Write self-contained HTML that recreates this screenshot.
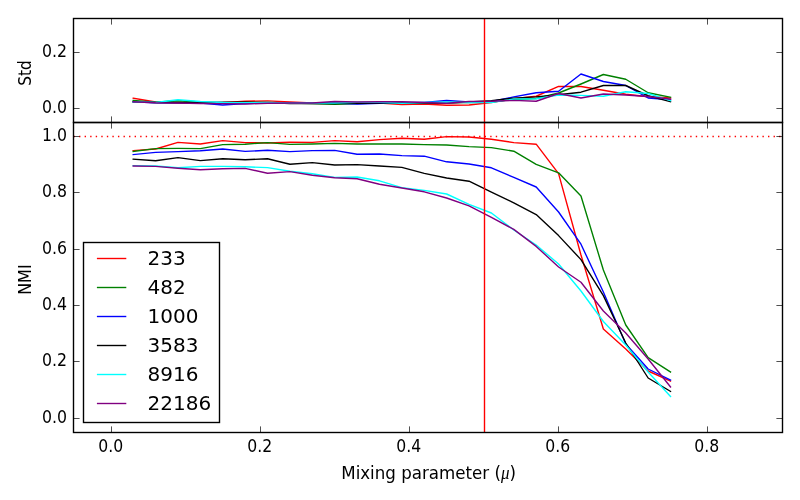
<!DOCTYPE html>
<html lang="en"><head><meta charset="utf-8"><title>NMI vs mixing parameter</title>
<style>
html,body{margin:0;padding:0;background:#fff;}
body{width:800px;height:500px;overflow:hidden;}
svg{display:block;}
svg text{font-family:"DejaVu Sans","Liberation Sans",sans-serif;fill:#000;}
.tk{font-size:16.67px;}
.lg{font-size:20px;}
.mu{font-family:"Liberation Serif","DejaVu Serif",serif;font-style:italic;font-size:17px;}
.curves polyline{fill:none;stroke-width:1.389;stroke-linejoin:round;stroke-linecap:square;}
.ticks line{stroke:#000;stroke-width:0.69;}
.spines line,.spines rect{stroke:#000;stroke-width:1.389;fill:none;stroke-linecap:square;}
</style></head><body>
<svg width="800" height="500" viewBox="0 0 800 500">
<rect x="0" y="0" width="800" height="500" fill="#ffffff"/>
<defs><clipPath id="ct"><rect x="73.5" y="18.5" width="709.0" height="104.0"/></clipPath>
<clipPath id="cb"><rect x="73.5" y="122.5" width="709.0" height="310.0"/></clipPath></defs>
<g class="curves" clip-path="url(#ct)">
<polyline points="133.19,98.20 155.58,102.00 177.97,102.80 200.36,102.80 222.75,102.80 245.13,101.20 267.52,100.90 289.91,102.00 312.30,103.00 334.69,103.00 357.08,103.00 379.47,103.00 401.86,104.50 424.25,104.00 446.63,105.30 469.02,105.00 491.41,102.50 513.80,98.75 536.19,96.25 558.58,86.40 580.97,86.50 603.36,90.20 625.75,94.25 648.14,96.80 670.52,98.00" stroke="#ff0000"/>
<polyline points="133.19,100.50 155.58,102.20 177.97,100.80 200.36,102.00 222.75,103.00 245.13,102.50 267.52,102.50 289.91,103.00 312.30,103.50 334.69,104.30 357.08,103.50 379.47,103.00 401.86,103.00 424.25,103.00 446.63,102.50 469.02,102.50 491.41,102.00 513.80,99.50 536.19,98.50 558.58,93.00 580.97,84.00 603.36,74.50 625.75,79.25 648.14,92.75 670.52,97.25" stroke="#008000"/>
<polyline points="133.19,101.80 155.58,102.80 177.97,102.80 200.36,103.00 222.75,105.00 245.13,103.50 267.52,103.00 289.91,103.00 312.30,103.00 334.69,103.00 357.08,104.00 379.47,103.20 401.86,102.50 424.25,102.50 446.63,100.50 469.02,102.00 491.41,101.50 513.80,96.90 536.19,92.75 558.58,91.25 580.97,74.00 603.36,81.50 625.75,85.50 648.14,98.00 670.52,99.80" stroke="#0000ff"/>
<polyline points="133.19,101.80 155.58,102.50 177.97,102.50 200.36,102.60 222.75,102.20 245.13,102.20 267.52,102.60 289.91,103.50 312.30,103.50 334.69,103.50 357.08,103.30 379.47,103.00 401.86,103.00 424.25,103.00 446.63,103.00 469.02,102.00 491.41,100.60 513.80,98.10 536.19,96.90 558.58,94.75 580.97,92.20 603.36,85.50 625.75,85.50 648.14,95.75 670.52,101.75" stroke="#000000"/>
<polyline points="133.19,101.80 155.58,102.50 177.97,99.70 200.36,101.50 222.75,102.50 245.13,102.80 267.52,102.50 289.91,103.00 312.30,103.00 334.69,103.00 357.08,102.30 379.47,102.20 401.86,103.30 424.25,102.50 446.63,102.00 469.02,102.50 491.41,102.50 513.80,99.00 536.19,98.75 558.58,95.00 580.97,95.40 603.36,96.20 625.75,91.70 648.14,93.50 670.52,100.70" stroke="#00ffff"/>
<polyline points="133.19,101.80 155.58,102.80 177.97,103.00 200.36,103.50 222.75,103.60 245.13,104.00 267.52,103.30 289.91,103.00 312.30,103.00 334.69,101.50 357.08,102.00 379.47,101.80 401.86,101.80 424.25,102.50 446.63,103.30 469.02,101.50 491.41,101.25 513.80,100.40 536.19,101.25 558.58,93.50 580.97,98.00 603.36,94.00 625.75,95.00 648.14,96.50 670.52,99.20" stroke="#800080"/>
<line x1="484.5" y1="18.5" x2="484.5" y2="122.5" stroke="#ff0000" stroke-width="1.389"/>
</g>
<g class="curves" clip-path="url(#cb)">
<polyline points="133.19,150.60 155.58,149.00 177.97,142.40 200.36,144.00 222.75,140.60 245.13,142.60 267.52,143.00 289.91,142.20 312.30,142.40 334.69,140.60 357.08,141.80 379.47,139.60 401.86,138.20 424.25,139.20 446.63,136.60 469.02,137.00 491.41,139.20 513.80,142.60 536.19,144.20 558.58,173.60 580.97,255.00 603.36,329.00 625.75,349.00 648.14,371.00 670.52,381.00" stroke="#ff0000"/>
<polyline points="133.19,151.40 155.58,148.60 177.97,148.40 200.36,148.60 222.75,144.60 245.13,144.20 267.52,142.60 289.91,144.40 312.30,144.00 334.69,143.40 357.08,144.00 379.47,144.00 401.86,144.00 424.25,144.60 446.63,145.00 469.02,146.60 491.41,147.60 513.80,151.20 536.19,164.40 558.58,172.80 580.97,196.00 603.36,270.00 625.75,325.00 648.14,357.60 670.52,372.00" stroke="#008000"/>
<polyline points="133.19,154.60 155.58,152.40 177.97,151.60 200.36,150.80 222.75,149.00 245.13,151.40 267.52,150.30 289.91,151.60 312.30,150.60 334.69,150.40 357.08,154.20 379.47,154.00 401.86,155.60 424.25,156.20 446.63,161.80 469.02,164.00 491.41,167.80 513.80,177.40 536.19,187.00 558.58,212.00 580.97,244.20 603.36,292.00 625.75,344.00 648.14,369.00 670.52,380.00" stroke="#0000ff"/>
<polyline points="133.19,159.20 155.58,160.80 177.97,157.60 200.36,160.60 222.75,158.80 245.13,159.80 267.52,158.80 289.91,164.20 312.30,162.60 334.69,165.00 357.08,164.60 379.47,166.00 401.86,167.40 424.25,173.40 446.63,178.00 469.02,181.20 491.41,192.20 513.80,202.80 536.19,214.60 558.58,235.60 580.97,259.60 603.36,295.60 625.75,343.00 648.14,378.00 670.52,391.40" stroke="#000000"/>
<polyline points="133.19,165.60 155.58,166.00 177.97,167.80 200.36,166.40 222.75,166.40 245.13,166.80 267.52,167.60 289.91,171.20 312.30,173.80 334.69,177.40 357.08,177.00 379.47,180.80 401.86,187.60 424.25,190.40 446.63,194.00 469.02,204.40 491.41,213.00 513.80,230.00 536.19,245.00 558.58,264.00 580.97,291.00 603.36,321.50 625.75,345.00 648.14,372.00 670.52,396.40" stroke="#00ffff"/>
<polyline points="133.19,166.00 155.58,166.40 177.97,168.20 200.36,169.80 222.75,168.80 245.13,168.40 267.52,173.20 289.91,171.60 312.30,175.20 334.69,177.80 357.08,178.80 379.47,184.20 401.86,188.00 424.25,191.80 446.63,198.00 469.02,205.80 491.41,217.40 513.80,229.40 536.19,246.40 558.58,267.00 580.97,282.20 603.36,311.00 625.75,333.00 648.14,359.00 670.52,387.00" stroke="#800080"/>
<line x1="484.5" y1="122.5" x2="484.5" y2="432.5" stroke="#ff0000" stroke-width="1.389"/>
<line x1="73.5" y1="136.5" x2="782.5" y2="136.5" stroke="#ff0000" stroke-width="1.389" stroke-dasharray="1.389 4.167" stroke-linecap="butt"/>
</g>
<g class="ticks">
<line x1="111.5" y1="18.50" x2="111.5" y2="24.60"/>
<line x1="111.5" y1="116.40" x2="111.5" y2="128.60"/>
<line x1="111.5" y1="426.40" x2="111.5" y2="432.50"/>
<line x1="260.5" y1="18.50" x2="260.5" y2="24.60"/>
<line x1="260.5" y1="116.40" x2="260.5" y2="128.60"/>
<line x1="260.5" y1="426.40" x2="260.5" y2="432.50"/>
<line x1="409.5" y1="18.50" x2="409.5" y2="24.60"/>
<line x1="409.5" y1="116.40" x2="409.5" y2="128.60"/>
<line x1="409.5" y1="426.40" x2="409.5" y2="432.50"/>
<line x1="558.5" y1="18.50" x2="558.5" y2="24.60"/>
<line x1="558.5" y1="116.40" x2="558.5" y2="128.60"/>
<line x1="558.5" y1="426.40" x2="558.5" y2="432.50"/>
<line x1="707.5" y1="18.50" x2="707.5" y2="24.60"/>
<line x1="707.5" y1="116.40" x2="707.5" y2="128.60"/>
<line x1="707.5" y1="426.40" x2="707.5" y2="432.50"/>
<line x1="73.50" y1="108.5" x2="79.60" y2="108.5"/>
<line x1="776.40" y1="108.5" x2="782.50" y2="108.5"/>
<line x1="73.50" y1="52.5" x2="79.60" y2="52.5"/>
<line x1="776.40" y1="52.5" x2="782.50" y2="52.5"/>
<line x1="73.50" y1="418.5" x2="79.60" y2="418.5"/>
<line x1="776.40" y1="418.5" x2="782.50" y2="418.5"/>
<line x1="73.50" y1="361.5" x2="79.60" y2="361.5"/>
<line x1="776.40" y1="361.5" x2="782.50" y2="361.5"/>
<line x1="73.50" y1="305.5" x2="79.60" y2="305.5"/>
<line x1="776.40" y1="305.5" x2="782.50" y2="305.5"/>
<line x1="73.50" y1="249.5" x2="79.60" y2="249.5"/>
<line x1="776.40" y1="249.5" x2="782.50" y2="249.5"/>
<line x1="73.50" y1="192.5" x2="79.60" y2="192.5"/>
<line x1="776.40" y1="192.5" x2="782.50" y2="192.5"/>
<line x1="73.50" y1="136.5" x2="79.60" y2="136.5"/>
<line x1="776.40" y1="136.5" x2="782.50" y2="136.5"/>
</g>
<g class="spines">
<rect x="73.5" y="18.5" width="709.0" height="104.0"/>
<rect x="73.5" y="122.5" width="709.0" height="310.0"/>
</g>
<g>
<rect x="83.5" y="242.5" width="136" height="180" fill="#ffffff" stroke="#000" stroke-width="1.389"/>
<line x1="96.9" y1="258.5" x2="126.3" y2="258.5" stroke="#ff0000" stroke-width="1.389"/>
<text class="lg" x="147.5" y="265.3">233</text>
<line x1="96.9" y1="287.5" x2="126.3" y2="287.5" stroke="#008000" stroke-width="1.389"/>
<text class="lg" x="147.5" y="294.3">482</text>
<line x1="96.9" y1="316.5" x2="126.3" y2="316.5" stroke="#0000ff" stroke-width="1.389"/>
<text class="lg" x="147.5" y="323.3">1000</text>
<line x1="96.9" y1="345.5" x2="126.3" y2="345.5" stroke="#000000" stroke-width="1.389"/>
<text class="lg" x="147.5" y="352.3">3583</text>
<line x1="96.9" y1="374.5" x2="126.3" y2="374.5" stroke="#00ffff" stroke-width="1.389"/>
<text class="lg" x="147.5" y="381.3">8916</text>
<line x1="96.9" y1="403.5" x2="126.3" y2="403.5" stroke="#800080" stroke-width="1.389"/>
<text class="lg" x="147.5" y="410.3">22186</text>
</g>
<g class="tk">
<text transform="translate(110.7,452.2) scale(0.94,1.08)" text-anchor="middle">0.0</text>
<text transform="translate(259.7,452.2) scale(0.94,1.08)" text-anchor="middle">0.2</text>
<text transform="translate(408.7,452.2) scale(0.94,1.08)" text-anchor="middle">0.4</text>
<text transform="translate(557.7,452.2) scale(0.94,1.08)" text-anchor="middle">0.6</text>
<text transform="translate(706.7,452.2) scale(0.94,1.08)" text-anchor="middle">0.8</text>
<text transform="translate(67.1,113.0) scale(0.945,1.04)" text-anchor="end">0.0</text>
<text transform="translate(67.1,57.0) scale(0.945,1.04)" text-anchor="end">0.2</text>
<text transform="translate(67.1,423.0) scale(0.945,1.04)" text-anchor="end">0.0</text>
<text transform="translate(67.1,366.0) scale(0.945,1.04)" text-anchor="end">0.2</text>
<text transform="translate(67.1,310.0) scale(0.945,1.04)" text-anchor="end">0.4</text>
<text transform="translate(67.1,254.0) scale(0.945,1.04)" text-anchor="end">0.6</text>
<text transform="translate(67.1,197.0) scale(0.945,1.04)" text-anchor="end">0.8</text>
<text transform="translate(67.1,141.0) scale(0.945,1.04)" text-anchor="end">1.0</text>
<text transform="translate(428.6,479.3) scale(1,1.07)" text-anchor="middle">Mixing parameter (<tspan class="mu">μ</tspan>)</text>
<text transform="translate(30.8,73) rotate(-90) scale(0.92,1.08)" text-anchor="middle">Std</text>
<text transform="translate(30.9,279.6) rotate(-90) scale(0.96,1.07)" text-anchor="middle">NMI</text>
</g>
</svg>
</body></html>
